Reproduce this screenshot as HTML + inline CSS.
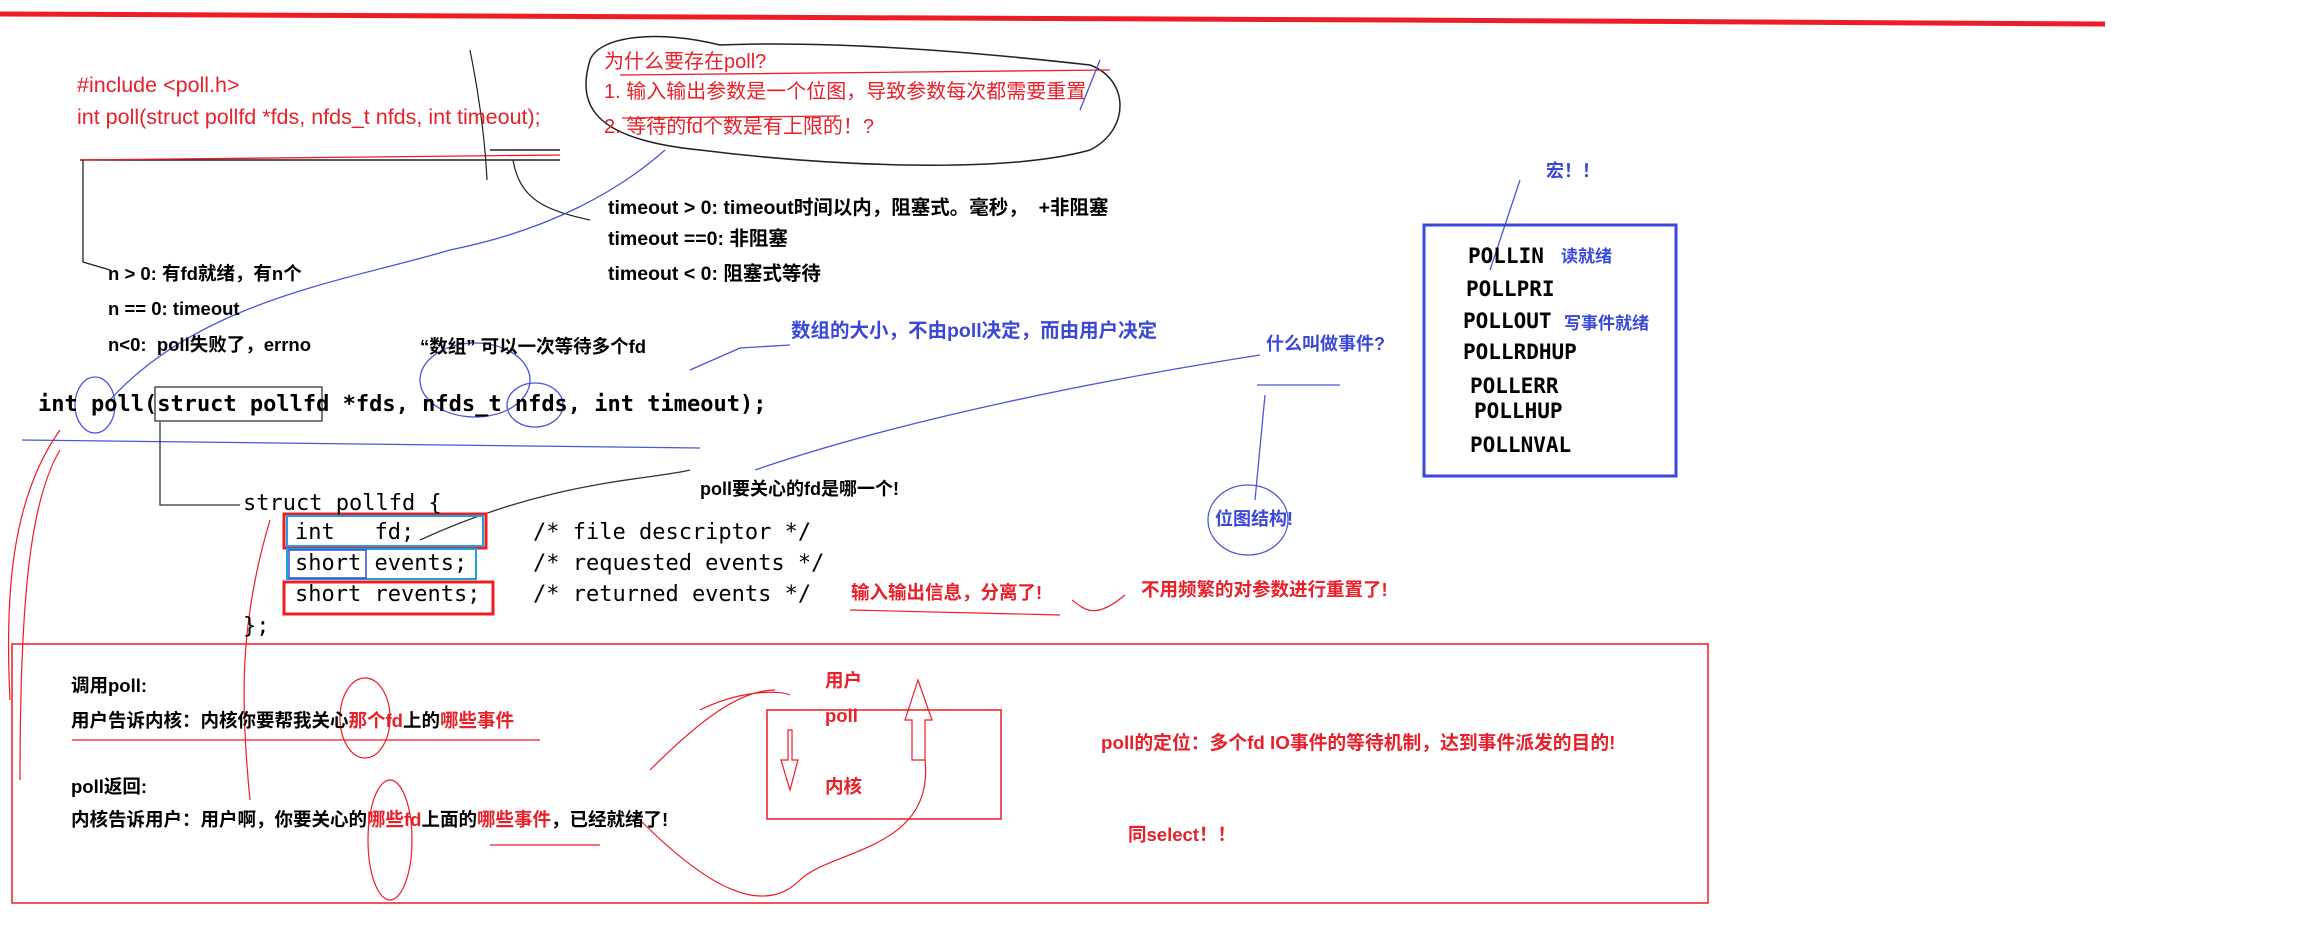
<!DOCTYPE html>
<html><head><meta charset="utf-8"><style>
html,body{margin:0;padding:0;background:#fff;}
body{width:2309px;height:931px;position:relative;overflow:hidden;font-family:"Liberation Sans","Noto Sans CJK SC",sans-serif;}
.t{position:absolute;white-space:nowrap;line-height:1;}
.r{color:#e8202a;}
.b{font-weight:bold;}
.bl{color:#3a48d8;}
.m{font-family:"DejaVu Sans Mono","Liberation Mono",monospace;}
svg{position:absolute;left:0;top:0;}
</style></head><body>
<svg width="2309" height="931" fill="none">
<path d="M0 14 L700 17 L1400 20 L2105 24" stroke="#ee1c25" stroke-width="5"/>
<path d="M590 60 C600 35 660 30 720 45 C850 40 1000 55 1090 65 C1130 80 1130 130 1090 150 C1000 175 820 165 700 150 C600 140 575 110 590 60Z" stroke="#222" stroke-width="1.5"/>
<path d="M80 160 L560 160 M490 150 L560 150" stroke="#222" stroke-width="1.5"/>
<path d="M80 160 L560 155" stroke="#ee1c25" stroke-width="1.3"/>
<path d="M83 160 L83 262 L110 270" stroke="#222" stroke-width="1.3"/>
<path d="M470 50 C480 100 485 140 487 180" stroke="#222" stroke-width="1.2"/>
<path d="M513 160 C520 200 545 210 590 220" stroke="#222" stroke-width="1.2"/>
<path d="M110 400 C200 300 350 280 450 250 C550 230 620 190 665 150" stroke="#4a55d8" stroke-width="1.3"/>
<path d="M620 75 L1110 70 M622 118 L840 116" stroke="#e8202a" stroke-width="1.3"/>
<path d="M1100 60 L1080 110" stroke="#4a55d8" stroke-width="1.3"/>
<path d="M22 440 L700 448 M690 370 L740 348 L790 345" stroke="#4a55d8" stroke-width="1.3"/>
<path d="M755 470 C900 420 1100 380 1260 355" stroke="#4a55d8" stroke-width="1.3"/>
<path d="M1257 385 L1340 385 M1265 395 L1255 500" stroke="#4a55d8" stroke-width="1.3"/>
<ellipse cx="1248" cy="520" rx="40" ry="35" stroke="#4a55d8" stroke-width="1.3"/>
<path d="M1490 270 L1520 180" stroke="#4a55d8" stroke-width="1.3"/>
<ellipse cx="475" cy="380" rx="55" ry="37" stroke="#4a55d8" stroke-width="1.3"/>
<ellipse cx="535" cy="405" rx="28" ry="22" stroke="#4a55d8" stroke-width="1.3"/>
<ellipse cx="95" cy="405" rx="20" ry="28" stroke="#4a55d8" stroke-width="1.3"/>
<rect x="155" y="387" width="167" height="34" stroke="#333" stroke-width="1.3"/>
<path d="M160 422 L160 505 L240 505" stroke="#333" stroke-width="1.3"/>
<path d="M420 540 C550 480 650 480 690 470" stroke="#333" stroke-width="1.3"/>
<rect x="284" y="514" width="202" height="34" stroke="#ee1c25" stroke-width="3"/>
<rect x="287" y="516" width="196" height="30" stroke="#1fa0e0" stroke-width="2"/>
<rect x="287" y="549" width="189" height="30" stroke="#1fa0e0" stroke-width="2"/>
<rect x="289" y="550" width="77" height="28" stroke="#3a48d8" stroke-width="1.5"/>
<rect x="284" y="582" width="209" height="32" stroke="#ee1c25" stroke-width="3"/>
<rect x="1424" y="225" width="252" height="251" stroke="#3a48d8" stroke-width="3"/>
<rect x="12" y="644" width="1696" height="259" stroke="#ee1c25" stroke-width="1.5"/>
<rect x="767" y="710" width="234" height="109" stroke="#ee1c25" stroke-width="1.5"/>
<path d="M788 730 L788 760 L781 760 L790 790 L798 760 L792 760 L792 730Z M918 680 L905 720 L912 720 L912 760 L925 760 L925 720 L932 720Z" stroke="#ee1c25" stroke-width="1.2"/>
<path d="M700 710 C740 690 780 690 790 695 M650 770 C700 720 740 690 775 690" stroke="#ee1c25" stroke-width="1.2"/>
<path d="M640 820 C700 880 760 920 800 880 C830 850 935 850 925 760" stroke="#ee1c25" stroke-width="1.2"/>
<path d="M60 430 C10 500 5 600 10 700 M60 450 C30 500 20 600 20 780 M270 520 C240 620 240 700 250 800" stroke="#ee1c25" stroke-width="1.2"/>
<ellipse cx="365" cy="718" rx="25" ry="40" stroke="#ee1c25" stroke-width="1.2"/>
<ellipse cx="390" cy="840" rx="22" ry="60" stroke="#ee1c25" stroke-width="1.2"/>
<path d="M850 610 L1060 615 M1072 600 C1085 610 1095 620 1125 595" stroke="#ee1c25" stroke-width="1.2"/>
<path d="M72 740 L540 740 M490 845 L600 845" stroke="#ee1c25" stroke-width="1.2"/>
</svg>

<div class="t r" style="left:77px;top:75px;font-size:21.5px">#include &lt;poll.h&gt;</div>
<div class="t r" style="left:77px;top:107px;font-size:21.5px">int poll(struct pollfd *fds, nfds_t nfds, int timeout);</div>
<div class="t r" style="left:604px;top:52px;font-size:20px">为什么要存在poll?</div>
<div class="t r" style="left:604px;top:82px;font-size:20px">1. 输入输出参数是一个位图，导致参数每次都需要重置</div>
<div class="t r" style="left:604px;top:117px;font-size:20px">2. 等待的fd个数是有上限的！?</div>

<div class="t b" style="left:608px;top:199px;font-size:19.5px">timeout &gt; 0: timeout时间以内，阻塞式。毫秒，&nbsp; +非阻塞</div>
<div class="t b" style="left:608px;top:230px;font-size:19.5px">timeout ==0: 非阻塞</div>
<div class="t b" style="left:608px;top:265px;font-size:19.5px">timeout &lt; 0: 阻塞式等待</div>

<div class="t b" style="left:108px;top:265px;font-size:18.5px">n &gt; 0: 有fd就绪，有n个</div>
<div class="t b" style="left:108px;top:300px;font-size:18.5px">n == 0: timeout</div>
<div class="t b" style="left:108px;top:336px;font-size:18.5px">n&lt;0:&nbsp; poll失败了，errno</div>
<div class="t b" style="left:420px;top:338px;font-size:18.5px">“数组”&nbsp;可以一次等待多个fd</div>
<div class="t b bl" style="left:791px;top:322px;font-size:19.5px">数组的大小，不由poll决定，而由用户决定</div>

<div class="t b m" style="left:38px;top:394px;font-size:22px">int poll(struct pollfd *fds, nfds_t nfds, int timeout);</div>

<div class="t b bl" style="left:1266px;top:335px;font-size:18px">什么叫做事件?</div>
<div class="t b bl" style="left:1546px;top:162px;font-size:18px">宏！！</div>
<div class="t b bl" style="left:1215px;top:510px;font-size:18px">位图结构!</div>

<div class="t b m" style="left:1468px;top:246px;font-size:21px">POLLIN</div>
<div class="t b bl" style="left:1561px;top:248px;font-size:17px">读就绪</div>
<div class="t b m" style="left:1466px;top:279px;font-size:21px">POLLPRI</div>
<div class="t b m" style="left:1463px;top:311px;font-size:21px">POLLOUT</div>
<div class="t b bl" style="left:1564px;top:315px;font-size:17px">写事件就绪</div>
<div class="t b m" style="left:1463px;top:342px;font-size:21px">POLLRDHUP</div>
<div class="t b m" style="left:1470px;top:376px;font-size:21px">POLLERR</div>
<div class="t b m" style="left:1474px;top:401px;font-size:21px">POLLHUP</div>
<div class="t b m" style="left:1470px;top:435px;font-size:21px">POLLNVAL</div>

<div class="t m" style="left:243px;top:493px;font-size:22px">struct pollfd {</div>
<div class="t m" style="left:295px;top:522px;font-size:22px">int&nbsp;&nbsp;&nbsp;fd;</div>
<div class="t m" style="left:295px;top:553px;font-size:22px">short events;</div>
<div class="t m" style="left:295px;top:584px;font-size:22px">short revents;</div>
<div class="t m" style="left:243px;top:616px;font-size:22px">};</div>
<div class="t m" style="left:533px;top:522px;font-size:22px">/* file descriptor */</div>
<div class="t m" style="left:533px;top:553px;font-size:22px">/* requested events */</div>
<div class="t m" style="left:533px;top:584px;font-size:22px">/* returned events */</div>
<div class="t b" style="left:700px;top:480px;font-size:18px">poll要关心的fd是哪一个!</div>
<div class="t b r" style="left:851px;top:584px;font-size:18.5px">输入输出信息，分离了!</div>
<div class="t b r" style="left:1141px;top:581px;font-size:18.5px">不用频繁的对参数进行重置了!</div>

<div class="t b" style="left:71px;top:677px;font-size:18.5px">调用poll:</div>
<div class="t b" style="left:71px;top:712px;font-size:18.5px">用户告诉内核：内核你要帮我关心<span class="r">那个fd</span>上的<span class="r">哪些事件</span></div>
<div class="t b" style="left:71px;top:778px;font-size:18.5px">poll返回:</div>
<div class="t b" style="left:71px;top:811px;font-size:18.5px">内核告诉用户：用户啊，你要关心的<span class="r">哪些fd</span>上面的<span class="r">哪些事件</span>，已经就绪了!</div>
<div class="t b r" style="left:825px;top:672px;font-size:18.5px">用户</div>
<div class="t b r" style="left:825px;top:707px;font-size:18.5px">poll</div>
<div class="t b r" style="left:825px;top:778px;font-size:18.5px">内核</div>
<div class="t b r" style="left:1101px;top:734px;font-size:18.8px">poll的定位：多个fd IO事件的等待机制，达到事件派发的目的!</div>
<div class="t b r" style="left:1128px;top:826px;font-size:18.5px">同select！！</div>
</body></html>
